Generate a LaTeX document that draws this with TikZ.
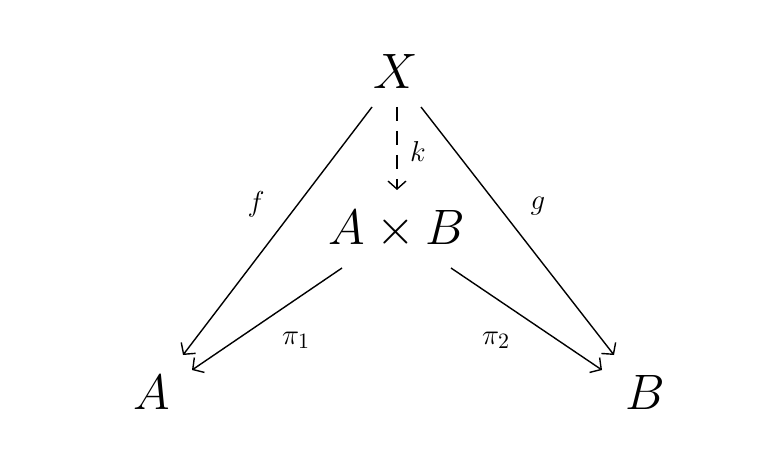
\documentclass[tikz,border=0pt]{standalone}
\usetikzlibrary{arrows.meta}
\begin{document}
\begin{tikzpicture}[x=0.5pt,y=-0.5pt,
  obj/.style={inner sep=0pt,font=\fontsize{27}{30}\selectfont},
  lab/.style={inner sep=0pt,font=\fontsize{15}{18}\selectfont},
  arr/.style={-{Straight Barb[length=4pt,width=9pt]},line width=0.7pt}]
\useasboundingbox (0,0) rectangle (780,454);
\node[obj] (X) at (396,72) {$X$};
\node[obj] (P) at (397,230) {$A\times B$};
\node[obj] (A) at (152,392) {$A$};
\node[obj] (B) at (645,392) {$B$};
\coordinate (x1) at (372,107); \coordinate (a1) at (183,355);
\coordinate (x2) at (421,107); \coordinate (b1) at (614,355);
\coordinate (x3) at (397,107); \coordinate (p1) at (397,190);
\coordinate (p2) at (342,268); \coordinate (a2) at (192,370);
\coordinate (p3) at (451,268); \coordinate (b2) at (602,370);
\draw[arr] (x1) -- (a1);
\draw[arr] (x2) -- (b1);
\draw[arr,dashed,dash pattern=on 7pt off 5pt] (x3) -- (p1);
\draw[arr] (p2) -- (a2);
\draw[arr] (p3) -- (b2);
\node[lab] (f) at (256,204) {$f$};
\node[lab] (g) at (538,206) {$g$};
\node[lab] (k) at (418,152) {$k$};
\node[lab] (pi1) at (296,340) {$\pi_1$};
\node[lab] (pi2) at (496,340) {$\pi_2$};
\end{tikzpicture}
\end{document}
